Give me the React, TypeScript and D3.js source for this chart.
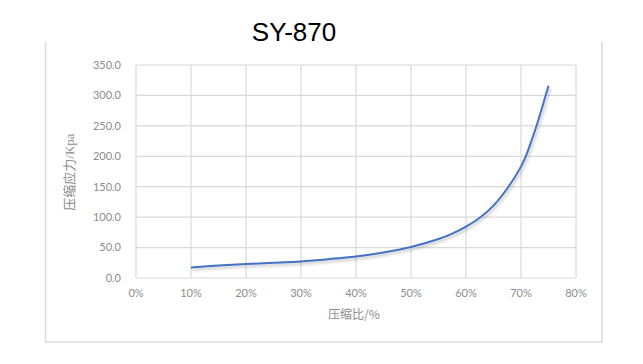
import React from "react";
import * as d3 from "d3";

const title = "SY-870";
const xTicks = [0, 10, 20, 30, 40, 50, 60, 70, 80];
const yTicks = [0, 50, 100, 150, 200, 250, 300, 350];
const ratio = [10, 15, 20, 25, 30, 35, 40, 45, 50, 55, 57.5, 60, 62.5, 65, 67.5, 70, 71, 72, 73, 74, 75];
const stress = [17.4, 20.5, 23, 25, 27.3, 31, 35.5, 42, 51, 64, 73, 84.5, 99, 119, 147, 183, 203, 228, 255, 285, 316];
const xTitle = "压缩比/%";
const yTitle = "压缩应力/Kpa";

const W = 643;
const H = 364;
const M = { left: 136, right: 576, top: 65, bottom: 278 };

export default function App() {
  const x = d3.scaleLinear().domain([0, 80]).range([M.left, M.right]);
  const y = d3.scaleLinear().domain([0, 350]).range([M.bottom, M.top]);
  const pts = ratio.map((r, i) => [r, stress[i]] as [number, number]);
  const line = d3
    .line<[number, number]>()
    .x((d) => x(d[0]))
    .y((d) => y(d[1]))
    .curve(d3.curveCatmullRom.alpha(0.5));
  const grid = "#d9d9d9";
  const tickColor = "#8c8c8c";
  return (
    <svg
      width={W}
      height={H}
      style={{ position: "absolute", left: 0, top: 0 }}
      viewBox={`0 0 ${W} ${H}`}
    >
      <defs>
        <filter id="sh" x="-20%" y="-20%" width="140%" height="140%">
          <feDropShadow dx="1.5" dy="2" stdDeviation="1.5" floodColor="#000" floodOpacity="0.25" />
        </filter>
      </defs>
      <rect x={0} y={0} width={W} height={H} fill="#fff" />
      <path
        d={`M45.5,42 V342 H602 V42`}
        fill="none"
        stroke="#dcdcdc"
        strokeWidth={1.5}
      />
      <text
        x={294}
        y={41}
        textAnchor="middle"
        fontFamily="Liberation Sans, Arial, sans-serif"
        fontSize={26}
        fill="#000"
      >
        {title}
      </text>
      {yTicks.map((t) => (
        <line
          key={"gy" + t}
          x1={M.left}
          x2={M.right}
          y1={y(t)}
          y2={y(t)}
          stroke={grid}
          strokeWidth={1.2}
        />
      ))}
      {xTicks.map((t) => (
        <line
          key={"gx" + t}
          x1={x(t)}
          x2={x(t)}
          y1={M.top}
          y2={M.bottom}
          stroke={grid}
          strokeWidth={1.2}
        />
      ))}
      {yTicks.map((t) => (
        <text
          key={"ty" + t}
          x={121}
          y={y(t)}
          dy="0.35em"
          textAnchor="end"
          fontFamily="Lato, Open Sans, sans-serif"
          fontSize={11}
          fill={tickColor}
        >
          {t.toFixed(1)}
        </text>
      ))}
      {xTicks.map((t) => (
        <text
          key={"tx" + t}
          x={x(t)}
          y={293}
          dy="0.35em"
          textAnchor="middle"
          fontFamily="Lato, Open Sans, sans-serif"
          fontSize={11}
          fill={tickColor}
        >
          {t + "%"}
        </text>
      ))}
      <text
        x={354}
        y={315}
        dy="0.35em"
        textAnchor="middle"
        fontFamily="Noto Sans CJK SC, sans-serif"
        fontSize={12}
        fill={tickColor}
      >
        {xTitle}
      </text>
      <text
        transform={`translate(69,172) rotate(-90)`}
        dy="0.35em"
        textAnchor="middle"
        fontFamily="Liberation Serif, Noto Sans CJK SC, serif"
        fontSize={13}
        fill={tickColor}
      >
        {yTitle}
      </text>
      <path
        d={line(pts) || ""}
        fill="none"
        stroke="#4472C4"
        strokeWidth={2}
        filter="url(#sh)"
      />
    </svg>
  );
}
